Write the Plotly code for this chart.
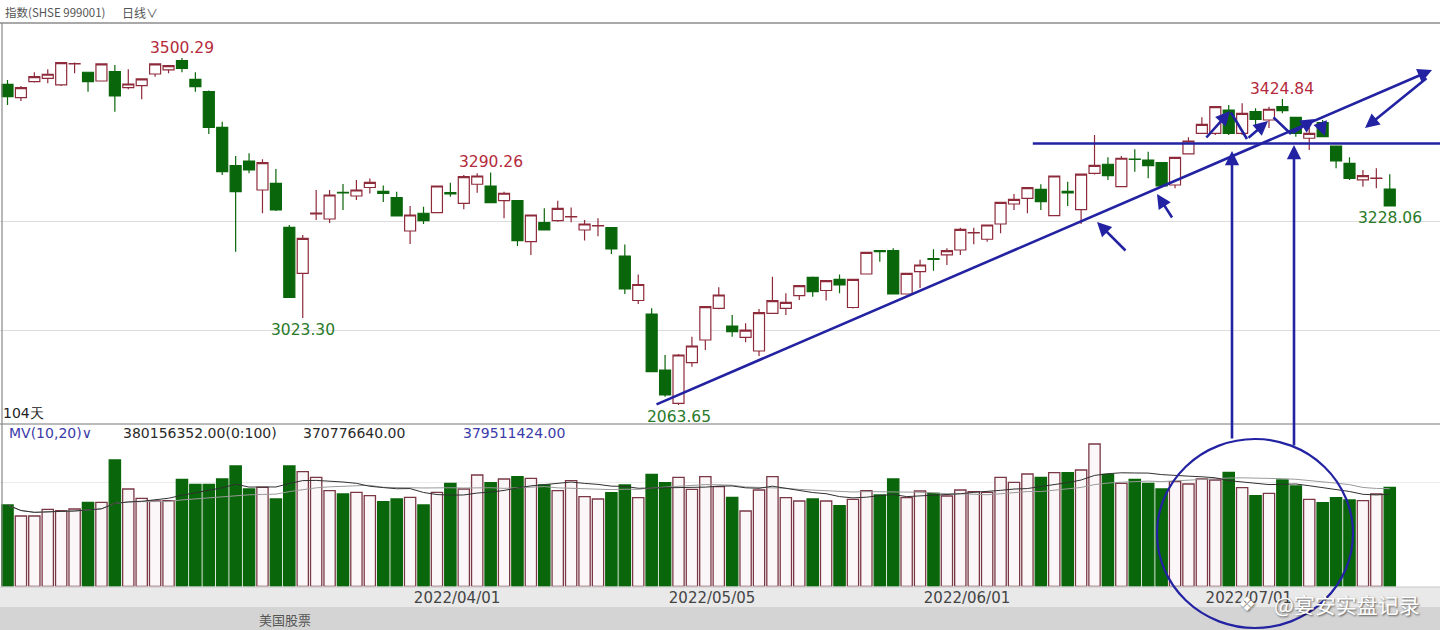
import plotly.graph_objects as go
import pandas as pd

# ---------------- data ----------------
open_ = [3452.0, 3427.4, 3456.8, 3463.0, 3450.8, 3489.3, 3474.1, 3458.1, 3475.2, 3445.8,
         3449.5, 3470.9, 3478.3, 3495.3, 3461.2, 3438.5, 3373.1, 3302.7, 3311.3, 3258.1,
         3270.4, 3189.7, 3105.3, 3214.1, 3204.9, 3253.9, 3247.1, 3262.7, 3255.4, 3244.3,
         3182.9, 3215.4, 3216.5, 3253.5, 3233.7, 3268.6, 3265.4, 3238.5, 3238.5, 3163.3,
         3198.1, 3201.8, 3208.6, 3184.7, 3192.1, 3189.3, 3137.0, 3055.4, 3030.6, 2927.9,
         2866.5, 2941.3, 2982.9, 3041.1, 3008.6, 2987.9, 2962.7, 3031.9, 3041.1, 3064.2,
         3097.9, 3073.7, 3094.3, 3042.5, 3104.0, 3146.7, 3146.7, 3067.3, 3108.2, 3132.4,
         3138.9, 3148.0, 3179.2, 3167.7, 3195.7, 3232.4, 3242.9, 3259.4, 3211.0, 3255.4,
         3222.0, 3288.7, 3305.3, 3264.2, 3315.0, 3313.1, 3308.2, 3267.3, 3324.2, 3362.1,
         3362.1, 3404.9, 3362.1, 3401.8, 3386.5, 3410.9, 3391.5, 3353.0, 3381.6, 3338.8,
         3307.1, 3276.5, 3279.2, 3259.9]
high = [3459.9, 3448.9, 3474.1, 3479.6, 3492.9, 3492.0, 3474.6, 3490.2, 3487.4, 3479.6,
        3462.7, 3490.2, 3487.4, 3500.29, 3474.1, 3440.7, 3383.4, 3320.5, 3325.4, 3314.4,
        3296.6, 3193.9, 3175.5, 3258.1, 3258.1, 3269.1, 3276.5, 3279.2, 3266.4, 3255.0,
        3228.8, 3227.5, 3266.4, 3271.5, 3285.6, 3288.7, 3290.26, 3255.0, 3239.8, 3213.0,
        3224.5, 3238.5, 3226.0, 3203.1, 3206.2, 3190.2, 3158.1, 3103.1, 3041.1, 2955.4,
        2957.2, 2989.0, 3045.3, 3079.6, 3028.8, 3013.5, 3039.8, 3099.0, 3068.6, 3083.8,
        3099.4, 3093.0, 3103.1, 3094.8, 3144.4, 3147.1, 3151.1, 3105.8, 3130.2, 3149.3,
        3151.1, 3188.9, 3188.9, 3194.8, 3236.1, 3250.8, 3263.1, 3268.6, 3284.7, 3273.3,
        3287.5, 3359.0, 3318.1, 3320.5, 3332.8, 3328.4, 3308.6, 3318.6, 3354.8, 3391.5,
        3411.3, 3414.1, 3417.2, 3408.0, 3410.9, 3424.84, 3392.6, 3374.2, 3386.5, 3339.7,
        3318.1, 3294.8, 3297.9, 3286.9]
low = [3414.1, 3421.4, 3455.3, 3453.9, 3448.9, 3472.2, 3438.5, 3457.2, 3401.8, 3442.9,
       3424.5, 3466.0, 3472.2, 3474.1, 3438.5, 3360.9, 3285.6, 3144.9, 3288.7, 3215.4,
       3219.6, 3060.0, 3023.30, 3203.1, 3197.6, 3221.4, 3239.8, 3251.7, 3236.1, 3209.5,
       3159.0, 3195.7, 3215.4, 3245.8, 3222.7, 3253.2, 3234.3, 3206.2, 3155.4, 3138.9,
       3183.8, 3199.9, 3199.0, 3165.4, 3173.2, 3140.7, 3067.3, 3049.0, 2924.2, 2878.9,
       2863.65, 2933.9, 2964.6, 3039.2, 2989.0, 2978.7, 2953.5, 3031.5, 3028.8, 3056.3,
       3062.3, 3055.4, 3068.6, 3040.7, 3103.1, 3126.6, 3066.4, 3066.8, 3078.3, 3110.0,
       3120.5, 3138.9, 3158.5, 3163.3, 3178.7, 3221.4, 3215.4, 3221.4, 3210.4, 3228.8,
       3195.7, 3286.5, 3276.5, 3263.1, 3291.7, 3279.6, 3264.5, 3261.2, 3323.3, 3361.8,
       3359.0, 3359.0, 3359.0, 3377.4, 3371.9, 3398.8, 3355.9, 3331.5, 3355.4, 3297.9,
       3276.5, 3264.2, 3261.2, 3228.06]
close = [3429.3, 3445.8, 3466.0, 3470.4, 3491.7, 3490.2, 3456.8, 3489.3, 3430.6, 3452.6,
         3461.8, 3489.3, 3486.2, 3481.4, 3447.6, 3373.1, 3291.7, 3255.0, 3294.8, 3308.2,
         3221.4, 3061.2, 3169.5, 3215.9, 3248.9, 3252.6, 3258.1, 3271.9, 3251.7, 3210.4,
         3212.2, 3201.8, 3265.4, 3250.8, 3282.5, 3283.8, 3234.8, 3252.1, 3165.1, 3212.2,
         3184.7, 3224.5, 3209.5, 3195.7, 3193.0, 3149.9, 3076.5, 3084.7, 2924.7, 2882.0,
         2955.4, 2971.9, 3044.0, 3065.5, 2998.1, 3001.2, 3033.0, 3055.0, 3052.1, 3082.5,
         3071.5, 3091.7, 3083.8, 3094.3, 3143.8, 3144.9, 3067.3, 3105.3, 3120.5, 3130.6,
         3146.7, 3186.0, 3180.1, 3193.9, 3235.5, 3241.0, 3262.3, 3236.6, 3283.8, 3252.6,
         3287.1, 3303.1, 3284.3, 3316.3, 3314.1, 3302.7, 3265.4, 3318.1, 3348.0, 3378.6,
         3410.9, 3362.1, 3398.8, 3387.8, 3406.2, 3403.6, 3362.1, 3362.1, 3355.9, 3311.3,
         3279.6, 3284.3, 3280.1, 3229.0]
# volume, in millions
volume_m = [313.0, 270.7, 270.7, 296.4, 291.1, 297.6, 323.3, 323.3, 485.8, 374.4,
            338.7, 328.3, 329.5, 411.6, 392.4, 392.4, 412.8, 462.7, 374.4, 380.9,
            336.0, 462.7, 440.8, 419.3, 367.9, 355.2, 361.7, 348.7, 325.6, 336.0,
            342.5, 313.0, 361.7, 396.3, 374.4, 428.2, 398.6, 412.8, 421.6, 415.5,
            389.8, 367.9, 406.3, 344.8, 336.0, 360.2, 389.8, 341.0, 430.8, 398.6,
            419.3, 373.2, 421.6, 383.2, 342.5, 289.9, 370.6, 421.6, 341.0, 328.3,
            336.0, 328.3, 310.3, 334.8, 367.9, 351.4, 412.8, 341.0, 366.7, 357.9,
            347.5, 370.6, 364.0, 361.7, 419.3, 400.1, 432.0, 419.3, 437.0, 437.0,
            447.4, 547.2, 430.8, 396.3, 411.6, 396.3, 374.4, 402.4, 393.6, 412.8,
            409.0, 438.5, 379.4, 348.7, 357.9, 409.0, 385.9, 334.8, 321.8, 341.0,
            332.2, 329.5, 355.2, 380.16]
tick_labels = ["2022/04/01", "2022/05/05", "2022/06/01", "2022/07/01"]
tick_index = [34, 53, 72, 93]
# extreme-value labels: (candle index, value, text)
hi_labels = [(13, 3500.29, "3500.29"), (36, 3290.26, "3290.26"), (95, 3424.84, "3424.84")]
lo_labels = [(22, 3023.30, "3023.30"), (50, 2863.65, "2063.65"), (103, 3228.06, "3228.06")]
mv_header = ["380156352.00(0:100)", "370776640.00", "379511424.00"]

# ---------------- styling ----------------
W, H = 1440, 630
RED = "#8E2B3B"
GREEN = "#0A660A"
LBL_RED = "#B42A3C"
LBL_GREEN = "#2A7A2A"
BLUE = "#2222A2"
FONT = "DejaVu Sans"
CJK = "Noto Sans CJK SC"

def px(x):
    return x / W

def py(y):
    return 1 - y / H

df = pd.DataFrame(dict(o=open_, h=high, l=low, c=close, v=volume_m))
xs = list(range(len(df)))
is_up = (df["c"] >= df["o"]).tolist()
ma10 = df["v"].rolling(10, min_periods=1).mean()
ma20 = df["v"].rolling(20, min_periods=1).mean()

fig = go.Figure()
fig.add_trace(go.Candlestick(
    x=xs, open=df["o"], high=df["h"], low=df["l"], close=df["c"],
    increasing=dict(line=dict(color=RED, width=1.2), fillcolor="white"),
    decreasing=dict(line=dict(color=GREEN, width=1.2), fillcolor=GREEN),
    whiskerwidth=0, xaxis="x", yaxis="y", showlegend=False, hoverinfo="skip"))

fig.add_trace(go.Bar(
    x=xs, y=df["v"], xaxis="x", yaxis="y2", showlegend=False, hoverinfo="skip",
    marker=dict(color=["#fbf6f7" if u else GREEN for u in is_up],
                line=dict(color=["#7A3845" if u else GREEN for u in is_up], width=1.3))))
fig.add_trace(go.Scatter(x=xs, y=ma20, mode="lines", xaxis="x", yaxis="y2",
                         line=dict(color="#9a9a9a", width=1), showlegend=False, hoverinfo="skip"))
fig.add_trace(go.Scatter(x=xs, y=ma10, mode="lines", xaxis="x", yaxis="y2",
                         line=dict(color="#303030", width=1), showlegend=False, hoverinfo="skip"))

x_lo = -7.5 / 13.42
x_hi = (W - 7.5) / 13.42

ann = []
for i, v, t in hi_labels:
    ann.append(dict(x=i, y=v, xref="x", yref="y", text=t, showarrow=False,
                    yanchor="bottom", yshift=-1, font=dict(family=FONT, size=15.5, color=LBL_RED)))
for i, v, t in lo_labels:
    ann.append(dict(x=i, y=v, xref="x", yref="y", text=t, showarrow=False,
                    yanchor="top", yshift=-1, font=dict(family=FONT, size=15.5, color=LBL_GREEN)))

# header texts
ann += [
    dict(x=px(3), y=py(12), xref="paper", yref="paper", text="指数(SHSE 999001)", showarrow=False,
         xanchor="left", yanchor="middle", font=dict(family=CJK, size=11.5, color="#555")),
    dict(x=px(120), y=py(12), xref="paper", yref="paper", text="日线∨", showarrow=False,
         xanchor="left", yanchor="middle", font=dict(family=CJK, size=12, color="#555")),
    dict(x=px(1), y=py(413), xref="paper", yref="paper", text="104天", showarrow=False,
         xanchor="left", yanchor="middle", font=dict(family=FONT, size=14, color="#222")),
    dict(x=px(7), y=py(433), xref="paper", yref="paper", text="MV(10,20)∨", showarrow=False,
         xanchor="left", yanchor="middle", font=dict(family=FONT, size=14, color="#3B3BAA")),
    dict(x=px(121), y=py(433), xref="paper", yref="paper", text=mv_header[0], showarrow=False,
         xanchor="left", yanchor="middle", font=dict(family=FONT, size=14, color="#2a2a2a")),
    dict(x=px(301), y=py(433), xref="paper", yref="paper", text=mv_header[1], showarrow=False,
         xanchor="left", yanchor="middle", font=dict(family=FONT, size=14, color="#2a2a2a")),
    dict(x=px(461), y=py(433), xref="paper", yref="paper", text=mv_header[2], showarrow=False,
         xanchor="left", yanchor="middle", font=dict(family=FONT, size=14, color="#3B3BAA")),
    dict(x=px(285), y=py(619), xref="paper", yref="paper", text="美国股票", showarrow=False,
         xanchor="center", yanchor="middle", font=dict(family=CJK, size=13, color="#555")),
    dict(x=px(1247), y=py(604), xref="paper", yref="paper", text="❖", showarrow=False,
         xanchor="center", yanchor="middle",
         font=dict(family=FONT, size=20, color="white", shadow="1px 1px 2px rgba(0,0,0,0.55)")),
    dict(x=px(1347), y=py(604), xref="paper", yref="paper", text="@宴安实盘记录", showarrow=False,
         xanchor="center", yanchor="middle",
         font=dict(family=CJK, size=21, color="white", shadow="1px 1px 2px rgba(0,0,0,0.6)")),
]

# ---- hand-drawn blue marks ----
def parr(hx, hy, tx, ty, head=2):
    return dict(x=px(hx), y=py(hy), xref="paper", yref="paper", ax=tx - hx, ay=ty - hy,
                text="", showarrow=True, arrowhead=head, arrowsize=1.1, arrowwidth=2.6,
                arrowcolor=BLUE, standoff=0, startstandoff=0)

# rising trend line (data coordinates) with arrow head at the upper end
ann.append(dict(x=106.15, y=3478.3, xref="x", yref="y", axref="x", ayref="y",
                ax=48.25, ay=2863.6, text="", showarrow=True, arrowhead=2, arrowsize=1.1,
                arrowwidth=2.6, arrowcolor=BLUE, standoff=0, startstandoff=0))
ann += [
    parr(1365, 128, 1428, 77),
    parr(1097, 222, 1127, 252),
    parr(1157, 194, 1173, 219),
    parr(1232, 151, 1232, 440),
    parr(1294, 145, 1294, 447),
    parr(1230, 111, 1205, 139),
    parr(1247, 139, 1230, 111, head=0),
    parr(1268, 121, 1247, 139),
    parr(1291, 134, 1272, 116, head=0),
    parr(1315, 119, 1291, 134),
    parr(1325, 136, 1320, 122),
]

shapes = [
    dict(type="rect", xref="paper", yref="paper", x0=0, x1=1, y0=py(607), y1=py(587),
         fillcolor="#e9e9e9", line=dict(width=0), layer="below"),
    dict(type="rect", xref="paper", yref="paper", x0=0, x1=1, y0=0, y1=py(607),
         fillcolor="#d4d4d4", line=dict(width=0), layer="below"),
    dict(type="line", xref="paper", yref="paper", x0=0, x1=1, y0=py(23), y1=py(23),
         line=dict(color="#555", width=1.2)),
    dict(type="line", xref="paper", yref="paper", x0=0, x1=1, y0=py(424), y1=py(424),
         line=dict(color="#777", width=1)),
    dict(type="line", xref="paper", yref="paper", x0=px(2), x1=px(2), y0=py(587), y1=py(23),
         line=dict(color="#888", width=1.2)),
    dict(type="line", xref="paper", yref="paper", x0=0, x1=1, y0=py(587), y1=py(587),
         line=dict(color="#c8c8c8", width=1)),
    # horizontal resistance line
    dict(type="line", xref="x", yref="y", x0=76.4, x1=x_hi, y0=3343.4, y1=3343.4,
         line=dict(color=BLUE, width=2.6)),
    # circle around the volume bars
    dict(type="circle", xref="paper", yref="paper", x0=px(1157), x1=px(1353),
         y0=py(628), y1=py(439), line=dict(color=BLUE, width=2.2)),
]

fig.update_layout(
    width=W, height=H,
    margin=dict(l=0, r=0, t=0, b=0),
    paper_bgcolor="white", plot_bgcolor="white",
    showlegend=False, bargap=0.16, boxgap=0.18, boxgroupgap=0,
    xaxis=dict(range=[x_lo, x_hi], domain=[0, 1], anchor="y2", showgrid=False, zeroline=False,
               tickmode="array", tickvals=[i - 0.5 for i in tick_index], ticktext=tick_labels,
               ticks="", showline=False, automargin=False,
               tickfont=dict(family=FONT, size=15, color="#444"),
               rangeslider=dict(visible=False)),
    yaxis=dict(domain=[1 - 424 / H, 1 - 22 / H], range=[2828.8, 3566.3], showticklabels=False,
               tickmode="array", tickvals=[3000, 3200], showgrid=True, gridcolor="#dcdcdc",
               gridwidth=1, zeroline=False, ticks="", automargin=False),
    yaxis2=dict(domain=[1 - 586.5 / H, 1 - 424 / H], range=[0, 624], showticklabels=False,
                tickmode="array", tickvals=[400], showgrid=True, gridcolor="#ececec",
                zeroline=False, ticks="", automargin=False),
    annotations=ann,
    shapes=shapes,
)

fig.write_html("out.html", config={"displayModeBar": False},
               post_script="document.body.style.margin='0';document.body.style.overflow='hidden';")
